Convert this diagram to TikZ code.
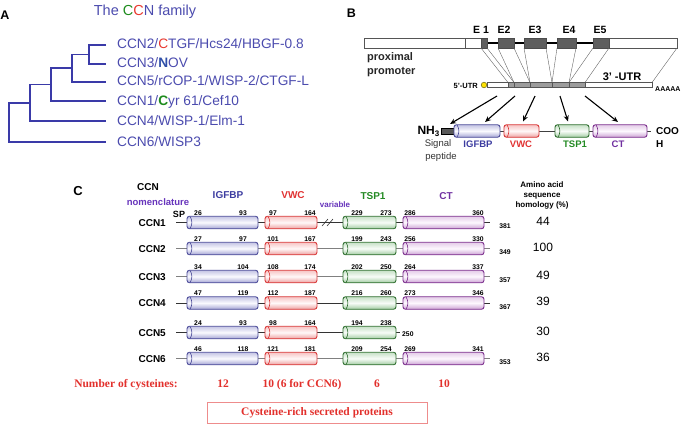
\documentclass[tikz,border=0pt]{standalone}
\usepackage{fontspec}
\setmainfont{Liberation Sans}
\newfontfamily\tnrfont{Liberation Serif}
\usetikzlibrary{arrows.meta}
\definecolor{treeblue}{HTML}{3A3AA8}
\definecolor{txtblue}{HTML}{4B4BAE}
\definecolor{nblue}{HTML}{2F4FA8}
\definecolor{ccnred}{HTML}{E83A30}
\definecolor{ccngreen}{HTML}{1E8C1E}
\definecolor{labblue}{HTML}{3C3CA0}
\definecolor{labred}{HTML}{E03232}
\definecolor{labgreen}{HTML}{238A23}
\definecolor{labpurple}{HTML}{7030A0}
\definecolor{nompurple}{HTML}{6633BB}
\definecolor{cysred}{HTML}{E2302C}
\definecolor{boxred}{HTML}{EE8C8C}
\definecolor{igE}{HTML}{4A4A98}
\definecolor{igT}{HTML}{C4C4E4}
\definecolor{igM}{HTML}{FAFAFE}
\definecolor{igB}{HTML}{A4A4D4}
\definecolor{vwE}{HTML}{D83636}
\definecolor{vwT}{HTML}{F6C4C4}
\definecolor{vwM}{HTML}{FFF8F8}
\definecolor{vwB}{HTML}{EEA0A0}
\definecolor{tsE}{HTML}{2E6E2E}
\definecolor{tsT}{HTML}{C6E0C6}
\definecolor{tsM}{HTML}{F8FCF8}
\definecolor{tsB}{HTML}{A2CCA2}
\definecolor{ctE}{HTML}{7A2C8C}
\definecolor{ctT}{HTML}{E4CCE8}
\definecolor{ctM}{HTML}{FDF8FE}
\definecolor{ctB}{HTML}{CCA2D4}
\definecolor{exon}{HTML}{5E5E5E}
\definecolor{coding}{HTML}{9C9C9C}
\definecolor{geneline}{HTML}{555555}
\begin{document}
\begin{tikzpicture}[x=1pt,y=-1pt,
  captxt/.style={inner sep=0, text height=0.716em, text depth=0pt},
  tree/.style={treeblue, line width=1.9pt},
  leaf/.style={captxt, anchor=west, text=txtblue, font=\fontsize{13.7}{16}\selectfont},
  num/.style={captxt, font=\bfseries\fontsize{6.8}{7}\selectfont},
  rowlab/.style={captxt, font=\bfseries\fontsize{10}{12}\selectfont},
  hdr/.style={captxt, font=\bfseries\fontsize{10}{12}\selectfont},
  smalltxt/.style={captxt, font=\bfseries\fontsize{8}{10}\selectfont},
  hom/.style={captxt, font=\fontsize{12}{14}\selectfont},
  cys/.style={captxt, font=\tnrfont\bfseries\fontsize{11.5}{13}\selectfont, text=cysred},
  panel/.style={captxt, font=\bfseries\fontsize{12.5}{14}\selectfont},
  dom/.style={draw=#1E, line width=0.9pt, rounded corners=2.5pt, inner sep=0,
    minimum height=12.5pt, top color=#1T, bottom color=#1B, middle color=#1M,
    path picture={\draw[#1E, line width=0.6pt]
      ([xshift=3pt]path picture bounding box.north west) .. controls
      ([xshift=5.5pt,yshift=-4pt]path picture bounding box.north west) and
      ([xshift=5.5pt,yshift=4pt]path picture bounding box.south west) ..
      ([xshift=3pt]path picture bounding box.south west);}},
  gbox/.style={draw=geneline, line width=0.6pt, fill=white},
  ebox/.style={draw=black!70, line width=0.6pt, fill=exon},
  conn/.style={draw=black!60, line width=0.4pt},
  arr/.style={-{Stealth[length=6pt,width=5pt]}, line width=1.1pt}
]
\useasboundingbox (0,0) rectangle (685,424);

% ---------------- Panel A ----------------
\node[panel] (labA) at (5,16) {A};
\node[captxt, text=txtblue, font=\fontsize{14.5}{17}\selectfont] (titleA) at (145,12)
  {The \textcolor{ccngreen}{C}\textcolor{ccnred}{C}N family};
\draw[tree] (106,45) -- (89,45) -- (89,64) -- (106,64);
\draw[tree] (89,54.5) -- (72,54.5) -- (72,82) -- (106,82);
\draw[tree] (72,68) -- (51,68) -- (51,101) -- (106,101);
\draw[tree] (51,84.5) -- (30,84.5) -- (30,121) -- (106,121);
\draw[tree] (30,103) -- (9,103) -- (9,142) -- (106,142);
\node[leaf] (l2) at (117,45) {CCN2/\textcolor{ccnred}{C}TGF/Hcs24/HBGF-0.8};
\node[leaf] (l3) at (117,63.5) {CCN3/\textcolor{nblue}{\bfseries N}OV};
\node[leaf] (l5) at (117,82) {CCN5/rCOP-1/WISP-2/CTGF-L};
\node[leaf] (l1) at (117,101.5) {CCN1/\textcolor{ccngreen}{\bfseries C}yr 61/Cef10};
\node[leaf] (l4) at (117,121.5) {CCN4/WISP-1/Elm-1};
\node[leaf] (l6) at (117,142.5) {CCN6/WISP3};

% ---------------- Panel B ----------------
\node[panel] (labB) at (351.5,13.5) {B};
\foreach \t/\x in {E 1/481,E2/504,E3/535,E4/569,E5/600}
  \node[captxt, font=\bfseries\fontsize{10.5}{12}\selectfont] (ex\x) at (\x,30) {\t};
\draw[line width=1.3pt] (487,43) -- (593,43);
\draw[gbox] (364,38) rectangle (465,48);
\draw[gbox] (465,38) rectangle (481,48);
\draw[gbox] (609,38) rectangle (677,48);
\draw[ebox] (481,38) rectangle (487,48);
\draw[ebox] (498,38) rectangle (514,48);
\draw[ebox] (524,38) rectangle (546,48);
\draw[ebox] (557,38) rectangle (576,48);
\draw[ebox] (593,38) rectangle (609,48);
\node[captxt, anchor=west, font=\bfseries\fontsize{11}{13}\selectfont, text=black!85] (prox1) at (367,57) {proximal};
\node[captxt, anchor=west, font=\bfseries\fontsize{11}{13}\selectfont, text=black!85] (prox2) at (367,71) {promoter};
% connectors exon -> mRNA
\foreach \a/\b in {481/508,487/514,498/514,514/530,524/530,546/552,557/552,576/569,593/569,609/585,677/652}
  \draw[conn] (\a,48) -- (\b,82.5);
% mRNA
\draw[gbox] (487,82.5) rectangle (652,87.5);
\draw[draw=geneline, line width=0.6pt, fill=coding] (508,82.5) rectangle (585,87.5);
\foreach \x in {514,530,552,569}
  \draw[geneline, line width=0.5pt] (\x,82.5) -- (\x,87.5);
\draw[draw=olive!80!black, fill=yellow!85!orange, line width=0.6pt] (484,85) circle (2.8);
\node[captxt, anchor=east, font=\bfseries\fontsize{7.5}{9}\selectfont] (utr5) at (478,85) {5'-UTR};
\node[captxt, font=\bfseries\fontsize{11}{13}\selectfont] (utr3) at (622,77) {3’ -UTR};
\node[captxt, anchor=west, font=\bfseries\fontsize{7}{8}\selectfont] (polyA) at (655,88) {AAAAA};
% protein
\draw[black!75, line width=0.7pt] (441,131) -- (651,131);
\node[draw=black, fill=black!65, line width=0.6pt, minimum width=13pt, minimum height=6pt, inner sep=0] (sp) at (447.5,131.5) {};
\node[dom=ig, minimum width=46pt] (pig) at (477,131) {};
\node[dom=vw, minimum width=35pt] (pvw) at (521.5,131) {};
\node[dom=ts, minimum width=34pt] (pts) at (572,131) {};
\node[dom=ct, minimum width=54pt] (pct) at (620,131) {};
\node[captxt, anchor=east, font=\bfseries\fontsize{12}{14}\selectfont] (nh3) at (440,131) {NH\textsubscript{3}};
\node[captxt, anchor=west, font=\bfseries\fontsize{10}{12}\selectfont] (coo) at (656,131) {COO};
\node[captxt, anchor=west, font=\bfseries\fontsize{10}{12}\selectfont] (cooh) at (656,144) {H};
\node[captxt, font=\fontsize{9.5}{11}\selectfont, text=black!80] (sig1) at (438,143) {Signal};
\node[captxt, font=\fontsize{9.5}{11}\selectfont, text=black!80] (sig2) at (441,156) {peptide};
\node[captxt, font=\bfseries\fontsize{9.5}{11}\selectfont, text=labblue] (tig) at (478,144) {IGFBP};
\node[captxt, font=\bfseries\fontsize{9.5}{11}\selectfont, text=labred] (tvw) at (521,144) {VWC};
\node[captxt, font=\bfseries\fontsize{9.5}{11}\selectfont, text=labgreen] (tts) at (575,144) {TSP1};
\node[captxt, font=\bfseries\fontsize{9.5}{11}\selectfont, text=labpurple] (tct) at (618,144) {CT};
% arrows mRNA -> protein
\coordinate (s1) at (497,96); \coordinate (t1) at (450,124);
\coordinate (s2) at (515,96); \coordinate (t2) at (485,122);
\coordinate (s3) at (535,96); \coordinate (t3) at (523,121.5);
\coordinate (s4) at (560,96); \coordinate (t4) at (568,121.5);
\coordinate (s5) at (585,96); \coordinate (t5) at (618,122);
\foreach \i in {1,...,5} \draw[arr] (s\i) -- (t\i);

% ---------------- Panel C ----------------
\node[panel, font=\bfseries\fontsize{13}{15}\selectfont] (labC) at (78,192) {C};
\node[hdr] (hccn) at (148,187) {CCN};
\node[captxt, font=\bfseries\fontsize{9.5}{11}\selectfont, text=nompurple] (hnom) at (158,202) {nomenclature};
\node[hdr, text=labblue] (hig) at (228,195) {IGFBP};
\node[hdr, text=labred] (hvw) at (293,195) {VWC};
\node[captxt, font=\bfseries\fontsize{8}{10}\selectfont, text=nompurple] (hvar) at (335,204) {variable};
\node[hdr, text=labgreen] (hts) at (373,196) {TSP1};
\node[hdr, text=labpurple] (hct) at (446,196) {CT};
\node[smalltxt] (ham1) at (542,184) {Amino acid};
\node[smalltxt] (ham2) at (542,194) {sequence};
\node[smalltxt] (ham3) at (542,204) {homology (\%)};
\node[captxt, font=\bfseries\fontsize{9}{11}\selectfont] (hsp) at (179,214) {SP};

\foreach \id/\y/\lc/\a/\b/\c/\d/\e/\f/\g/\h/\len/\hm in {
  1/222.5/black!80/26/93/97/164/229/273/286/360/381/44,
  2/248.5/black!50/27/97/101/167/199/243/256/330/349/100,
  3/276.5/black!50/34/104/108/174/202/250/264/337/357/49,
  4/303/black!80/47/119/112/187/216/260/273/346/367/39,
  6/358.5/black!50/46/118/121/181/209/254/269/341/353/36}{
  \draw[\lc, line width=0.8pt] (176,\y) -- (490,\y);
  \node[dom=ig, minimum width=71pt] (ig\id) at (222.5,\y) {};
  \node[dom=vw, minimum width=52pt] (vw\id) at (291,\y) {};
  \node[dom=ts, minimum width=53pt] (ts\id) at (369.5,\y) {};
  \node[dom=ct, minimum width=81pt] (ct\id) at (443.5,\y) {};
  \node[rowlab, anchor=east] (row\id) at (166,\y) {CCN\id};
  \node[num] (na\id) at (198,\y-11) {\a};
  \node[num] (nb\id) at (243,\y-11) {\b};
  \node[num] (nc\id) at (273,\y-11) {\c};
  \node[num] (nd\id) at (310,\y-11) {\d};
  \node[num] (ne\id) at (357,\y-11) {\e};
  \node[num] (nf\id) at (386,\y-11) {\f};
  \node[num] (ng\id) at (410,\y-11) {\g};
  \node[num] (nh\id) at (478,\y-11) {\h};
  \node[num] (len\id) at (505,\y+2.5) {\len};
  \node[hom] (hom\id) at (543,\y-1) {\hm};
}
% break marks on CCN1
\draw[black!80, line width=0.6pt] (322,226) -- (328,219);
\draw[black!80, line width=0.6pt] (327,226) -- (333,219);
% CCN5
\draw[black!80, line width=0.8pt] (176,332.5) -- (400,332.5);
\node[dom=ig, minimum width=71pt] (ig5) at (222.5,332.5) {};
\node[dom=vw, minimum width=52pt] (vw5) at (291,332.5) {};
\node[dom=ts, minimum width=53pt] (ts5) at (369.5,332.5) {};
\node[rowlab, anchor=east] (row5) at (166,332.5) {CCN5};
\node[num] (na5) at (198,321.5) {24};
\node[num] (nb5) at (243,321.5) {93};
\node[num] (nc5) at (273,321.5) {98};
\node[num] (nd5) at (310,321.5) {164};
\node[num] (ne5) at (357,321.5) {194};
\node[num] (nf5) at (386,321.5) {238};
\node[num, anchor=west] (len5) at (402,332.5) {250};
\node[hom] (hom5) at (543,331.5) {30};

% cysteines
\node[cys] (cys0) at (126,384) {Number of cysteines:};
\node[cys] (cys1) at (223,384) {12};
\node[cys] (cys2) at (302,384) {10 (6 for CCN6)};
\node[cys] (cys3) at (377,384) {6};
\node[cys] (cys4) at (444,384) {10};
\node[draw=boxred, line width=0.8pt, minimum width=220pt, minimum height=21pt, inner sep=0,
  text=cysred, font=\tnrfont\bfseries\fontsize{11.5}{13}\selectfont] (crsp) at (317,412.5)
  {Cysteine-rich secreted proteins};
\end{tikzpicture}
\end{document}
